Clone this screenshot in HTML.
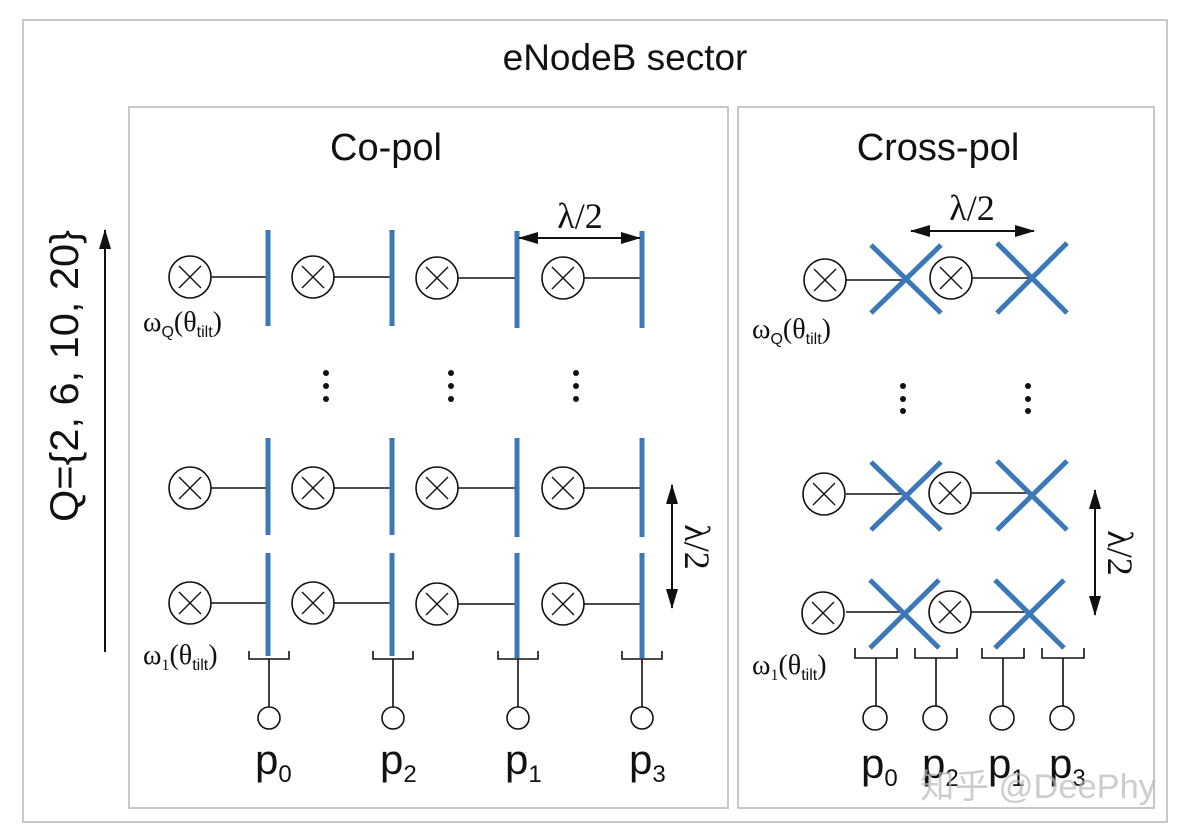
<!DOCTYPE html>
<html><head><meta charset="utf-8"><style>
html,body{margin:0;padding:0;background:#fff;}
svg{display:block;}
text{font-family:"Liberation Sans","DejaVu Sans",sans-serif;fill:#111;}
.s{font-family:"Liberation Serif",serif;}
</style></head><body>
<svg width="1187" height="835" viewBox="0 0 1187 835" xmlns="http://www.w3.org/2000/svg">
<defs>
<marker id="ah2" markerWidth="20" markerHeight="12" refX="19" refY="6" orient="auto" markerUnits="userSpaceOnUse">
<path d="M0,0 L20,6 L0,12 z" fill="#111"/></marker>
<marker id="ah2s" markerWidth="20" markerHeight="12" refX="1" refY="6" orient="auto" markerUnits="userSpaceOnUse">
<path d="M20,0 L0,6 L20,12 z" fill="#111"/></marker>
<g id="cx"><circle r="21" fill="#fff" stroke="#111" stroke-width="1.6"/><path d="M-11,-11 L11,11 M11,-11 L-11,11" stroke="#111" stroke-width="1.4"/></g>
<g id="pc"><circle r="11" fill="#fff" stroke="#111" stroke-width="1.6"/></g>
</defs>
<rect x="23" y="20" width="1144" height="802" fill="none" stroke="#c8c8c8" stroke-width="2"/>
<rect x="129" y="107" width="599" height="701" fill="none" stroke="#c8c8c8" stroke-width="2"/>
<rect x="738" y="107" width="416" height="701" fill="none" stroke="#c8c8c8" stroke-width="2"/>
<text x="625" y="70" font-size="37" text-anchor="middle">eNodeB sector</text>
<text x="386" y="160" font-size="38" text-anchor="middle">Co-pol</text>
<text x="938" y="160" font-size="38" text-anchor="middle">Cross-pol</text>

<line x1="105" y1="652" x2="105" y2="230" stroke="#111" stroke-width="2" marker-end="url(#ah2)"/>
<text transform="translate(78,376) rotate(-90)" font-size="40" text-anchor="middle" textLength="292" lengthAdjust="spacingAndGlyphs">Q={2, 6, 10, 20}</text>

<g stroke="#111" stroke-width="1.6">
<line x1="211" y1="277" x2="268" y2="277"/><line x1="334" y1="277" x2="392" y2="277"/><line x1="458" y1="278" x2="517" y2="278"/><line x1="584" y1="278" x2="642" y2="278"/>
<line x1="211" y1="488" x2="268" y2="488"/><line x1="334" y1="488" x2="392" y2="488"/><line x1="458" y1="488" x2="517" y2="488"/><line x1="584" y1="488" x2="642" y2="488"/>
<line x1="211" y1="603" x2="268" y2="603"/><line x1="334" y1="603" x2="392" y2="603"/><line x1="458" y1="604" x2="517" y2="604"/><line x1="584" y1="604" x2="642" y2="604"/>
</g>
<g stroke="#3a78b8" stroke-width="5">
<line x1="268" y1="230" x2="268" y2="326"/><line x1="392" y1="230" x2="392" y2="326"/><line x1="517" y1="231" x2="517" y2="328"/><line x1="642" y1="231" x2="642" y2="328"/>
<line x1="268" y1="438" x2="268" y2="535"/><line x1="392" y1="438" x2="392" y2="535"/><line x1="517" y1="438" x2="517" y2="537"/><line x1="642" y1="438" x2="642" y2="537"/>
<line x1="268" y1="553" x2="268" y2="656"/><line x1="392" y1="553" x2="392" y2="656"/><line x1="517" y1="553" x2="517" y2="658"/><line x1="642" y1="553" x2="642" y2="658"/>
</g>
<use href="#cx" x="190" y="277"/><use href="#cx" x="313" y="277"/><use href="#cx" x="437" y="278"/><use href="#cx" x="563" y="278"/>
<use href="#cx" x="190" y="488"/><use href="#cx" x="313" y="488"/><use href="#cx" x="437" y="488"/><use href="#cx" x="563" y="488"/>
<use href="#cx" x="190" y="603"/><use href="#cx" x="313" y="603"/><use href="#cx" x="437" y="604"/><use href="#cx" x="563" y="604"/>
<g fill="#111">
<circle cx="326" cy="373" r="3"/><circle cx="326" cy="386" r="3"/><circle cx="326" cy="399" r="3"/>
<circle cx="451" cy="373" r="3"/><circle cx="451" cy="386" r="3"/><circle cx="451" cy="399" r="3"/>
<circle cx="576" cy="373" r="3"/><circle cx="576" cy="386" r="3"/><circle cx="576" cy="399" r="3"/>
</g>
<line x1="519" y1="238" x2="640" y2="238" stroke="#111" stroke-width="2" marker-start="url(#ah2s)" marker-end="url(#ah2)"/>
<text x="580" y="228" font-size="36" class="s" text-anchor="middle">λ/2</text>
<line x1="672" y1="485" x2="672" y2="608" stroke="#111" stroke-width="2" marker-start="url(#ah2s)" marker-end="url(#ah2)"/>
<text transform="translate(685,547) rotate(90)" font-size="36" class="s" text-anchor="middle">λ/2</text>
<text x="143" y="331" font-size="28" class="s">ω<tspan font-size="16" dy="6" font-family="Liberation Sans">Q</tspan><tspan dy="-6">(θ</tspan><tspan font-size="16" dy="6" font-family="Liberation Sans">tilt</tspan><tspan dy="-6">)</tspan></text>
<text x="143" y="664" font-size="28" class="s">ω<tspan font-size="16" dy="6">1</tspan><tspan dy="-6">(θ</tspan><tspan font-size="16" dy="6" font-family="Liberation Sans">tilt</tspan><tspan dy="-6">)</tspan></text>
<g stroke="#111" stroke-width="1.6" fill="none">
<path d="M249,651 V659 H289 V651 M269,659 V707"/>
<path d="M373,651 V659 H413 V651 M393,659 V707"/>
<path d="M498,651 V659 H538 V651 M518,659 V707"/>
<path d="M622,651 V659 H662 V651 M642,659 V707"/>
</g>
<use href="#pc" x="269" y="718"/><use href="#pc" x="393" y="718"/><use href="#pc" x="518" y="718"/><use href="#pc" x="642" y="718"/>
<g font-size="42">
<text x="255" y="774">p<tspan font-size="24" dy="8">0</tspan></text>
<text x="380" y="774">p<tspan font-size="24" dy="8">2</tspan></text>
<text x="505" y="774">p<tspan font-size="24" dy="8">1</tspan></text>
<text x="629" y="774">p<tspan font-size="24" dy="8">3</tspan></text>
</g>

<g stroke="#111" stroke-width="1.6">
<line x1="846" y1="280" x2="905" y2="280"/><line x1="971" y1="278" x2="1030" y2="278"/>
<line x1="846" y1="494" x2="905" y2="494"/><line x1="971" y1="493" x2="1030" y2="493"/>
<line x1="846" y1="612" x2="905" y2="612"/><line x1="971" y1="612" x2="1030" y2="612"/>
</g>
<g stroke="#3a78b8" stroke-width="5">
<path d="M871,245 L941,313 M941,245 L871,313"/><path d="M997,243 L1067,313 M1067,243 L997,313"/>
<path d="M871,462 L941,530 M941,462 L871,530"/><path d="M997,461 L1067,530 M1067,461 L997,530"/>
<path d="M870,580 L939,648 M939,580 L870,648"/><path d="M995,580 L1064,648 M1064,580 L995,648"/>
</g>
<use href="#cx" x="825" y="280"/><use href="#cx" x="951" y="278"/>
<use href="#cx" x="824" y="494"/><use href="#cx" x="950" y="493"/>
<use href="#cx" x="823" y="613"/><use href="#cx" x="950" y="612"/>
<g fill="#111">
<circle cx="903" cy="386" r="3"/><circle cx="903" cy="399" r="3"/><circle cx="903" cy="411" r="3"/>
<circle cx="1028" cy="386" r="3"/><circle cx="1028" cy="399" r="3"/><circle cx="1028" cy="411" r="3"/>
</g>
<line x1="911" y1="231" x2="1034" y2="231" stroke="#111" stroke-width="2" marker-start="url(#ah2s)" marker-end="url(#ah2)"/>
<text x="972" y="220" font-size="36" class="s" text-anchor="middle">λ/2</text>
<line x1="1095" y1="490" x2="1095" y2="615" stroke="#111" stroke-width="2" marker-start="url(#ah2s)" marker-end="url(#ah2)"/>
<text transform="translate(1108,553) rotate(90)" font-size="36" class="s" text-anchor="middle">λ/2</text>
<text x="752" y="338" font-size="28" class="s">ω<tspan font-size="16" dy="6" font-family="Liberation Sans">Q</tspan><tspan dy="-6">(θ</tspan><tspan font-size="16" dy="6" font-family="Liberation Sans">tilt</tspan><tspan dy="-6">)</tspan></text>
<text x="752" y="674" font-size="28" class="s">ω<tspan font-size="16" dy="6">1</tspan><tspan dy="-6">(θ</tspan><tspan font-size="16" dy="6" font-family="Liberation Sans">tilt</tspan><tspan dy="-6">)</tspan></text>
<g stroke="#111" stroke-width="1.6" fill="none">
<path d="M855,648 V658 H897 V648 M876,658 V707"/>
<path d="M915,648 V658 H957 V648 M936,658 V707"/>
<path d="M982,648 V658 H1024 V648 M1003,658 V707"/>
<path d="M1042,648 V658 H1084 V648 M1063,658 V707"/>
</g>
<g stroke="#111" stroke-width="1.6" fill="#fff">
<circle cx="875" cy="718" r="12"/><circle cx="935" cy="718" r="12"/><circle cx="1002" cy="718" r="12"/><circle cx="1062" cy="718" r="12"/>
</g>
<g font-size="42">
<text x="861" y="778">p<tspan font-size="24" dy="8">0</tspan></text>
<text x="922" y="778">p<tspan font-size="24" dy="8">2</tspan></text>
<text x="988" y="778">p<tspan font-size="24" dy="8">1</tspan></text>
<text x="1049" y="778">p<tspan font-size="24" dy="8">3</tspan></text>
</g>
<text x="920" y="798" font-size="34" textLength="236" lengthAdjust="spacingAndGlyphs" style="fill:#b8b8b8;fill-opacity:0.7;font-family:'Liberation Sans','Noto Sans CJK SC',sans-serif">知乎 @DeePhy</text>
</svg>
</body></html>
